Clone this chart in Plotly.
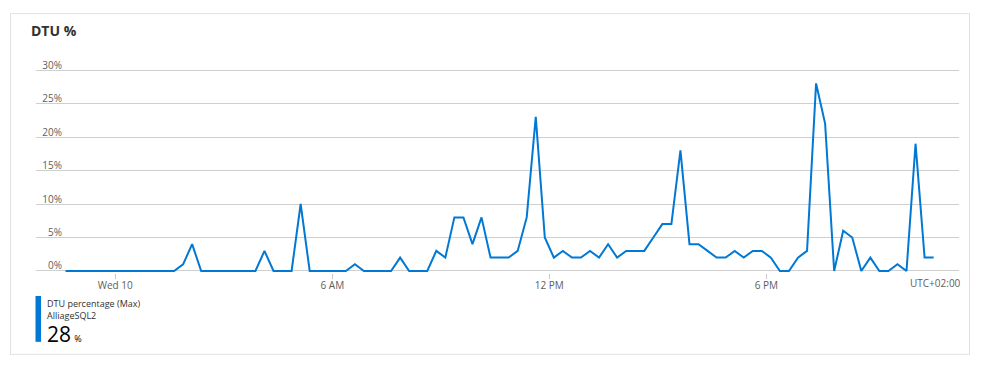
import pandas as pd
import plotly.graph_objects as go

# ---- data ----
series_name = "DTU percentage (Max)"
resource_name = "AlliageSQL2"
start_time = "2021-03-09 22:37:30"   # first sample, 15-minute grain
dtu_max = [
    0, 0, 0, 0, 0, 0, 0, 0, 0, 0, 0, 0, 0,      # until ~01:37
    1, 4, 0, 0, 0, 0, 0, 0, 0, 3, 0, 0, 0, 10,
    0, 0, 0, 0, 0, 1, 0, 0, 0, 0, 2, 0, 0, 0,
    3, 2, 8, 8, 4, 8, 2, 2, 2, 3, 8, 23, 5, 2,
    3, 2, 2, 3, 2, 4, 2, 3, 3, 3, 5, 7, 7, 18,
    4, 4, 3, 2, 2, 3, 2, 3, 3, 2, 0, 0, 2, 3,
    28, 22, 0, 6, 5, 0, 2, 0, 0, 1, 0, 19, 2, 2,
]
times = pd.date_range(start_time, periods=len(dtu_max), freq="15min")

y_ticks = [0, 5, 10, 15, 20, 25, 30]
y_tick_text = ["0%", "5%", "10%", "15%", "20%", "25%", "30%"]
x_tick_vals = ["2021-03-10 00:00", "2021-03-10 06:00", "2021-03-10 12:00", "2021-03-10 18:00"]
x_tick_text = ["Wed 10", "6 AM", "12 PM", "6 PM"]
x_range = ["2021-03-09 21:48:30", "2021-03-10 23:19:35"]

# ---- layout geometry (pixels) ----
W, H = 987, 369
PL, PR, PT, PB = 36, 959, 68, 273.5
FONT = "Segoe UI, Open Sans, Noto Sans, sans-serif"
BLUE = "#0078d4"


def px(x):
    return (x - PL) / (PR - PL)


def py(y):
    return (PB - y) / (PB - PT)


fig = go.Figure()
fig.add_trace(go.Scatter(
    x=times, y=dtu_max, mode="lines",
    line=dict(color=BLUE, width=2),
    name=series_name, showlegend=False,
))

fig.update_layout(
    width=W, height=H,
    margin=dict(l=PL, r=W - PR, t=PT, b=H - PB, autoexpand=False),
    paper_bgcolor="white", plot_bgcolor="white",
    font=dict(family=FONT, color="#323130"),
    title=dict(text="<b>DTU %</b>", x=31 / W, xref="container", xanchor="left",
               y=1 - 31 / H, yref="container", yanchor="middle",
               font=dict(size=14, color="#323130", family=FONT)),
    xaxis=dict(
        range=x_range, tickvals=x_tick_vals, ticktext=x_tick_text,
        showgrid=False, zeroline=False, showline=False,
        ticks="outside", ticklen=5, tickcolor="#c8c8c8", tickwidth=1,
        tickfont=dict(size=10, color="#605e5c"), automargin=False,
        ticklabelstandoff=-2,
    ),
    yaxis=dict(
        range=[-0.3, 30.3], tickvals=y_ticks, ticktext=y_tick_text,
        showgrid=True, gridcolor="#cfcfcf", gridwidth=1,
        zeroline=False, showline=False, ticks="",
        tickfont=dict(size=10, color="#605e5c"),
        ticklabelstandoff=-27, ticklabelshift=-5, automargin=False,
    ),
)

# card border
fig.add_shape(type="rect", xref="paper", yref="paper",
              x0=px(10.5), x1=px(969.5), y0=py(355), y1=py(13.5),
              line=dict(color="#e1e1e1", width=1), layer="below")

# legend colour bar
fig.add_shape(type="rect", xref="paper", yref="paper",
              x0=px(35.5), x1=px(41), y0=py(342.5), y1=py(296.5),
              line=dict(width=0), fillcolor=BLUE)

fig.add_annotation(text="UTC+02:00", xref="paper", yref="paper",
                   x=px(963), y=py(284), xanchor="right", yanchor="middle",
                   showarrow=False, font=dict(size=10, color="#605e5c", family=FONT))
fig.add_annotation(text=series_name, xref="paper", yref="paper",
                   x=px(45), y=py(304.5), xanchor="left", yanchor="middle",
                   showarrow=False, font=dict(size=9, color="#323130", family=FONT))
fig.add_annotation(text=resource_name, xref="paper", yref="paper",
                   x=px(45), y=py(316), xanchor="left", yanchor="middle",
                   showarrow=False, font=dict(size=9, color="#323130", family=FONT))
fig.add_annotation(
    text=f"<span style='font-size:21px'>{max(dtu_max):.0f}</span> <span style='font-size:9px'>%</span>",
    xref="paper", yref="paper", x=px(45), y=py(335), xanchor="left", yanchor="middle",
    showarrow=False, font=dict(color="#000000", family=FONT))

fig.write_html("out.html")
